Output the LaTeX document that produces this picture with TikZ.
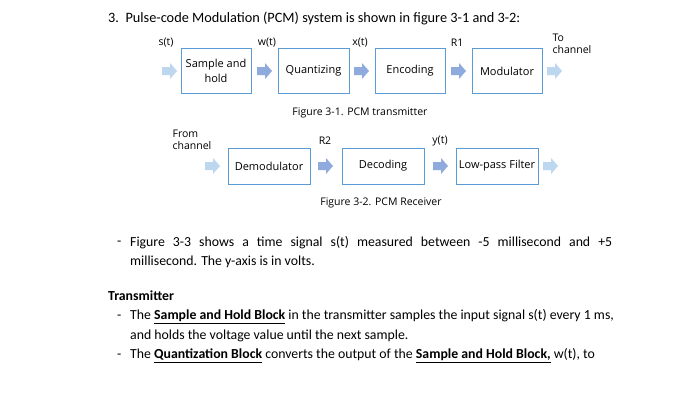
\documentclass[tikz,border=0pt]{standalone}
\usepackage{fontspec}
\setmainfont{Carlito}
\newfontfamily\dfont{Open Sans}
\definecolor{boxc}{HTML}{5B9BD5}
\definecolor{arrl}{HTML}{BDD7EE}
\definecolor{arrd}{HTML}{8FAADC}
\newcommand\barrow[3]{\fill[#3] (#1,#2-4) -- (#1+8,#2-4) -- (#1+8,#2-8) -- (#1+15,#2) -- (#1+8,#2+8) -- (#1+8,#2+4) -- (#1,#2+4) -- cycle;}
\begin{document}
\begin{tikzpicture}[x=1pt,y=-1pt,
  blk/.style={draw=boxc,line width=0.8pt,inner sep=0pt,align=center,font=\dfont\fontsize{11}{15}\selectfont},
  lbl/.style={font=\dfont\fontsize{10.5}{12}\selectfont,inner sep=0pt},
  body/.style={anchor=west,inner sep=0pt,font=\fontsize{13.8}{15}\selectfont}]
\useasboundingbox[fill=white] (0,0) rectangle (700,407);
\node[body,font=\fontsize{14.3}{15}\selectfont] (title) at (108,18) {3.\ \ Pulse-code Modulation (PCM) system is shown in figure 3-1 and 3-2:};
% transmitter
\node[blk,minimum width=70,minimum height=45] (sh) at (216,71) {Sample and\\hold};
\node[blk,minimum width=71,minimum height=45] (q) at (313.5,71) {Quantizing};
\node[blk,minimum width=70,minimum height=45] (en) at (410,71) {Encoding};
\node[blk,minimum width=70,minimum height=45] (mo) at (507,71) {Modulator};
\barrow{162}{71}{arrl}
\barrow{257}{71}{arrd}
\barrow{354}{71}{arrd}
\barrow{451}{71}{arrd}
\barrow{547}{71}{arrl}
\node[lbl] (s) at (166,43) {s(t)};
\node[lbl] (w) at (267,43) {w(t)};
\node[lbl] (x) at (360,43) {x(t)};
\node[lbl] (r1) at (457,43) {R1};
\node[lbl,align=left] (tc) at (572,44) {To\\channel};
\node[lbl] (c1) at (360,113) {Figure 3-1. PCM transmitter};
% receiver
\node[blk,minimum width=82,minimum height=36] (de) at (269,166) {Demodulator};
\node[blk,minimum width=82,minimum height=36] (dc) at (383,166) {Decoding};
\node[blk,minimum width=82,minimum height=36] (lp) at (497,166) {Low-pass Filter};
\barrow{205}{166}{arrl}
\barrow{318}{166}{arrd}
\barrow{433}{166}{arrd}
\barrow{543}{166}{arrl}
\node[lbl,align=left] (fc) at (192,140) {From\\channel};
\node[lbl] (r2) at (325,141) {R2};
\node[lbl] (y) at (440,141) {y(t)};
\node[lbl] (c2) at (381,203) {Figure 3-2. PCM Receiver};
% text
\node[body] (d1) at (117,243) {-};
\node[body] (p1) at (130,243) {\hbox to 482pt{Figure 3-3 shows a time signal s(t) measured between -5 millisecond and +5}};
\node[body] (p2) at (130,262) {millisecond. The y-axis is in volts.};
\node[body,font=\bfseries\fontsize{13.8}{15}\selectfont] (tr) at (108,296) {Transmitter};
\node[body] (d2) at (117,317) {-};
\node[body] (p3) at (130,317) {The \underline{\textbf{Sample and Hold Block}} in the transmitter samples the input signal s(t) every 1 ms,};
\node[body] (p4) at (130,336) {and holds the voltage value until the next sample.};
\node[body] (d3) at (117,356) {-};
\node[body] (p5) at (130,356) {The \underline{\textbf{Quantization Block}} converts the output of the \underline{\textbf{Sample and Hold Block,}} w(t), to};
\end{tikzpicture}
\end{document}
